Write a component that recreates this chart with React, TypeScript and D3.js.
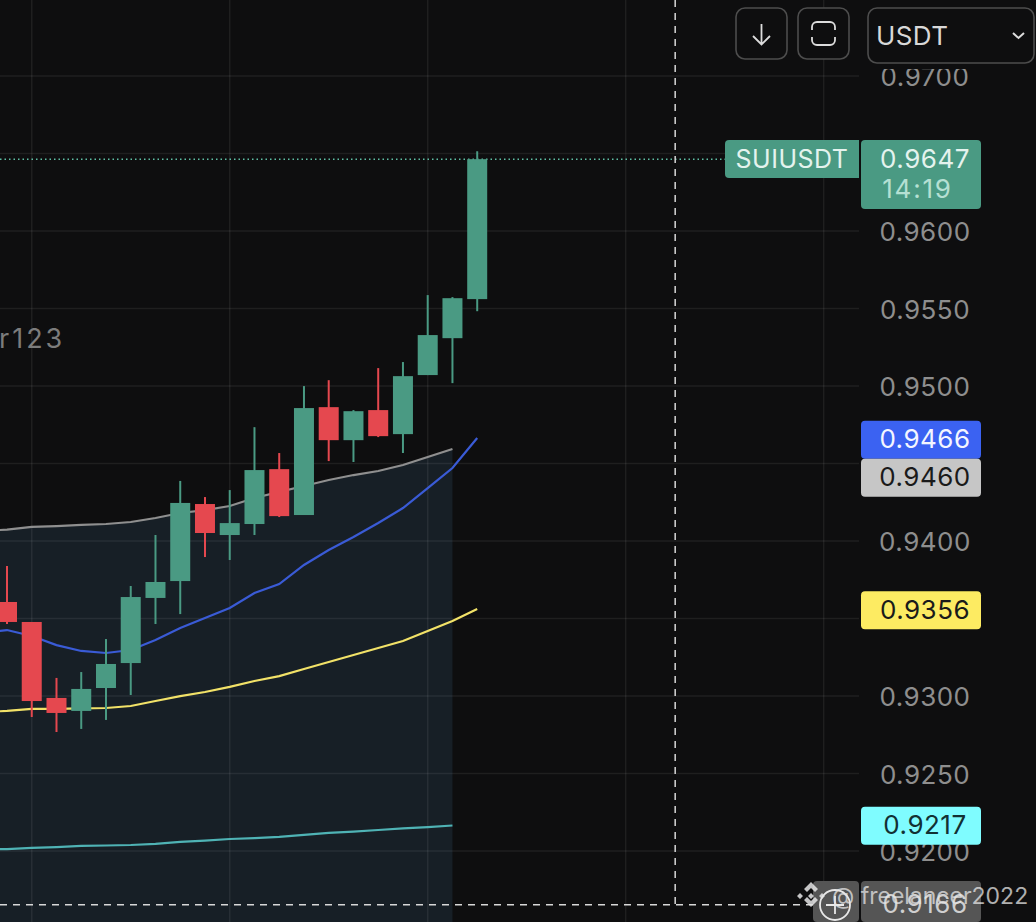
import React from 'react'
import * as d3 from 'd3'

// [open, high, low, close], oldest first
const candles: number[][] = [
  [0.93613, 0.93845, 0.93471, 0.93484],
  [0.93484, 0.93484, 0.92871, 0.92974],
  [0.92994, 0.93123, 0.92774, 0.92897],
  [0.9291, 0.93161, 0.92794, 0.93052],
  [0.93058, 0.93374, 0.92852, 0.93213],
  [0.93219, 0.93716, 0.93013, 0.93645],
  [0.93639, 0.94045, 0.93471, 0.93742],
  [0.93748, 0.94394, 0.93535, 0.94252],
  [0.94245, 0.9429, 0.93903, 0.94058],
  [0.94045, 0.94335, 0.93884, 0.94122],
  [0.94116, 0.94741, 0.94045, 0.94464],
  [0.9447, 0.94574, 0.94161, 0.94167],
  [0.94174, 0.95006, 0.94174, 0.94864],
  [0.9487, 0.95044, 0.94522, 0.94657],
  [0.94657, 0.94851, 0.94516, 0.94844],
  [0.94851, 0.95122, 0.94677, 0.94683],
  [0.94696, 0.95161, 0.94574, 0.9507],
  [0.95077, 0.95593, 0.95077, 0.95335],
  [0.95315, 0.9558, 0.95025, 0.95573],
  [0.95567, 0.96521, 0.95489, 0.9647],
]

// moving averages, first value belongs to the candle just off the left edge
const greyLine = [
  0.94071, 0.9408, 0.94097, 0.94103, 0.9411, 0.94116, 0.94129, 0.94155, 0.94187, 0.94206, 0.94232,
  0.94284, 0.94323, 0.94361, 0.944, 0.94432, 0.94458, 0.94497, 0.94548, 0.946,
]
const blueLine = [
  0.93413, 0.93432, 0.93394, 0.93335, 0.93297, 0.93284, 0.93303, 0.93368, 0.93445, 0.9351, 0.93574,
  0.93671, 0.93729, 0.93852, 0.93948, 0.94032, 0.94123, 0.94219, 0.94348, 0.94477, 0.94671,
]
const yellowLine = [
  0.92903, 0.9291, 0.92923, 0.92923, 0.92926, 0.92929, 0.92942, 0.92974, 0.93006, 0.93032, 0.93065,
  0.93103, 0.93135, 0.93181, 0.93226, 0.93271, 0.93316, 0.93361, 0.93426, 0.9349, 0.93568,
]
const tealLine = [
  0.92016, 0.92019, 0.92026, 0.92032, 0.92039, 0.92042, 0.92045, 0.92052, 0.92065, 0.92074, 0.92084,
  0.9209, 0.92097, 0.9211, 0.92123, 0.92132, 0.92142, 0.92152, 0.92161, 0.92171,
]

// 0.9350 and 0.9450 sit behind the price tags in the picture
const priceTicks = [0.92, 0.925, 0.93, 0.94, 0.95, 0.955, 0.96, 0.97]
const gridPrices = [0.92, 0.925, 0.93, 0.935, 0.94, 0.945, 0.95, 0.955, 0.96, 0.965, 0.97]
const gridSlots = [1, 9, 17, 25, 33]

const lastPrice = 0.9647
const crossPrice = 0.9166
const crossSlot = 27

const priceTags = [
  { value: 0.9466, fill: '#3b62f2', text: '#f4f6ff' },
  { value: 0.946, fill: '#c6c6c6', text: '#1a1a1a' },
  { value: 0.9356, fill: '#fdeb62', text: '#1a1a1a' },
  { value: 0.9217, fill: '#7ffcff', text: '#123033' },
]

const GREEN = '#4a9a83'
const RED = '#e5484f'
const BG = '#0e0e0f'
const FONT = 'Inter, "Noto Sans", sans-serif'

const W = 1036
const H = 922
const PLOT_RIGHT = 859
const TAG_H = 38

const x = d3.scaleLinear().domain([0, 19]).range([7, 477.2])
const y = d3.scaleLinear().domain([0.92, 0.97]).range([852, 77])
const fmt = d3.format('.4f')

// lines carry one extra leading point at slot -1
const linePath = d3
  .line<number>()
  .x((_, i) => x(i - 1))
  .y((d) => y(d))

const bandPath = d3
  .area<number>()
  .x((_, i) => x(i - 1))
  .y0(H)
  .y1((d) => y(d))

// tags that would collide get pushed down under the previous one
function stackTags() {
  let bottom = -Infinity
  return priceTags.map((t) => {
    const top = Math.max(y(t.value) - TAG_H / 2, bottom)
    bottom = top + TAG_H
    return { ...t, top }
  })
}

export default function App() {
  const bodyW = 20
  return (
    <svg
      width={W}
      height={H}
      viewBox={`0 0 ${W} ${H}`}
      style={{ position: 'absolute', left: 0, top: 0, background: BG, fontFamily: FONT }}
    >
      <rect width={W} height={H} fill={BG} />

      <path d={bandPath(greyLine) ?? ''} fill="#171f26" />

      {gridPrices.map((p) => (
        <line key={p} x1={0} x2={PLOT_RIGHT} y1={y(p) - 1} y2={y(p) - 1} stroke="#ffffff" strokeOpacity={0.07} strokeWidth={1.5} />
      ))}
      {gridSlots.map((s) => (
        <line key={s} x1={x(s)} x2={x(s)} y1={0} y2={H} stroke="#ffffff" strokeOpacity={0.07} strokeWidth={1.5} />
      ))}

      <line x1={0} x2={725} y1={y(lastPrice)} y2={y(lastPrice)} stroke="#5fc0a5" strokeWidth={1.5} strokeDasharray="1.5 3" />

      <path d={linePath(tealLine) ?? ''} fill="none" stroke="#4fb3b5" strokeWidth={2.2} />
      <path d={linePath(yellowLine) ?? ''} fill="none" stroke="#f2e268" strokeWidth={2.2} />
      <path d={linePath(greyLine) ?? ''} fill="none" stroke="#8f8f8f" strokeWidth={2.2} />
      <path d={linePath(blueLine) ?? ''} fill="none" stroke="#3a5bd6" strokeWidth={2.2} />

      {candles.map(([o, h, l, c], i) => {
        const color = c >= o ? GREEN : RED
        return (
          <g key={i}>
            <line x1={x(i)} x2={x(i)} y1={y(h)} y2={y(l)} stroke={color} strokeWidth={2} />
            <rect
              x={x(i) - bodyW / 2}
              y={y(Math.max(o, c))}
              width={bodyW}
              height={Math.abs(y(o) - y(c))}
              fill={color}
            />
          </g>
        )
      })}

      <text x={-1} y={348} fontSize={27} fill="#7c7c7c" letterSpacing={3}>
        r123
      </text>

      {/* crosshair */}
      <line x1={x(crossSlot)} x2={x(crossSlot)} y1={0} y2={908} stroke="#d8d8d8" strokeWidth={1.5} strokeDasharray="7 6" />
      <line x1={0} x2={813} y1={y(crossPrice)} y2={y(crossPrice)} stroke="#d8d8d8" strokeWidth={1.5} strokeDasharray="7 6" />

      {/* price axis */}
      {priceTicks.map((p) => (
        <text key={p} x={925} y={y(p) + 9} textAnchor="middle" fontSize={26} fill="#8e8e8e" letterSpacing={0.5}>
          {fmt(p)}
        </text>
      ))}
      <rect x={860} y={0} width={176} height={69} fill={BG} />

      {/* last price */}
      <rect x={725} y={140} width={134} height={TAG_H} rx={4} fill={GREEN} />
      <rect x={850} y={140} width={9} height={TAG_H} fill={GREEN} />
      <text x={792} y={168} textAnchor="middle" fontSize={25} fill="#e4f3ee" letterSpacing={0.5}>
        SUIUSDT
      </text>
      <rect x={861} y={140} width={120} height={69} rx={4} fill={GREEN} />
      <text x={925} y={168} textAnchor="middle" fontSize={26} fill="#e4f3ee" letterSpacing={0.5}>
        {fmt(lastPrice)}
      </text>
      <text x={917.5} y={198} textAnchor="middle" fontSize={26} fill="#b5e0d3" letterSpacing={1.8}>
        14:19
      </text>

      {stackTags().map((t) => (
        <g key={t.value}>
          <rect x={861} y={t.top} width={120} height={TAG_H} rx={4} fill={t.fill} />
          <text x={925} y={t.top + 27.5} textAnchor="middle" fontSize={26} fill={t.text} letterSpacing={0.5}>
            {fmt(t.value)}
          </text>
        </g>
      ))}

      {/* crosshair tags */}
      <rect x={813} y={881} width={46} height={41} rx={4} fill="#555555" />
      <rect x={861} y={881} width={120} height={41} rx={4} fill="#555555" />
      <text x={925} y={913} textAnchor="middle" fontSize={26} fill="#cfcfcf" letterSpacing={0.5}>
        {fmt(crossPrice)}
      </text>
      <circle cx={835} cy={905} r={15} fill="none" stroke="#e8e8e8" strokeWidth={1.8} />
      <path d="M835 896V914M826 905H844" stroke="#e8e8e8" strokeWidth={1.8} />

      {/* toolbar */}
      <rect x={736} y={8} width={51} height={51} rx={9} fill={BG} stroke="#4d4d4d" strokeWidth={1.6} />
      <path d="M761.5 24V44M753 36l8.5 8.5L770 36" fill="none" stroke="#dcdcdc" strokeWidth={1.8} />
      <rect x={798} y={8} width={51} height={51} rx={9} fill={BG} stroke="#4d4d4d" strokeWidth={1.6} />
      <path
        d="M812 30v-3a5 5 0 0 1 5-5h13a5 5 0 0 1 5 5v3M812 37v3a5 5 0 0 0 5 5h13a5 5 0 0 0 5-5v-3"
        fill="none"
        stroke="#dcdcdc"
        strokeWidth={1.8}
      />
      <rect x={868} y={8} width={166} height={55} rx={9} fill={BG} stroke="#4d4d4d" strokeWidth={1.6} />
      <text x={876} y={45} fontSize={26} fill="#d8d8d8" letterSpacing={0.4}>
        USDT
      </text>
      <path d="M1013 33l5.5 5 5.5-5" fill="none" stroke="#dcdcdc" strokeWidth={2} />

      {/* watermark */}
      <g fill="#e6e6e6" opacity={0.85}>
        <path d="M811 883l7 7-3 3-4-4-4 4-3-3zM800 894l3 3-3 3-3-3zM822 894l3 3-3 3-3-3zM811 894l3 3-3 3-3-3zM804 901l3-3 4 4 4-4 3 3-7 7z" transform="translate(0 -1)" />
      </g>
      <text x={832} y={904} fontSize={23} fill="#e6e6e6" fillOpacity={0.75}>
        @ freelancer2022
      </text>
    </svg>
  )
}
